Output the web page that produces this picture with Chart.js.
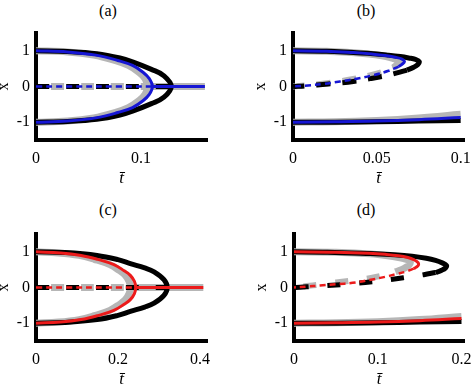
<!DOCTYPE html>
<html>
<head>
<meta charset="utf-8">
<script src="https://cdn.jsdelivr.net/npm/chart.js@4/dist/chart.umd.min.js"></script>
<style>
body{margin:0;width:474px;height:386px;overflow:hidden;background:#fff;position:relative;font-family:'Liberation Serif',serif}
canvas{position:absolute}
.lbl{position:absolute;font-size:16px;transform:translate(-50%,-50%);white-space:nowrap;color:#000}
</style>
</head>
<body>
<div class="lbl" style="left:108px;top:11px">(a)</div>
<div class="lbl" style="left:366px;top:11px">(b)</div>
<div class="lbl" style="left:108px;top:210px">(c)</div>
<div class="lbl" style="left:366px;top:210px">(d)</div>
<canvas id="ca" width="241" height="193" style="left:-4px;top:0px"></canvas>
<canvas id="cb" width="237" height="193" style="left:237px;top:0px"></canvas>
<canvas id="cc" width="241" height="201" style="left:-4px;top:193px"></canvas>
<canvas id="cd" width="237" height="201" style="left:237px;top:193px"></canvas>
<script>
const yTicks = [-1, 0, 1];

// (a) pitchfork, blue model
const aTicks = [0, 0.1];
const aMax = 0.163, aEnd = 0.161;
const aBlackT = [0, 0.03, 0.058, 0.08, 0.092, 0.11, 0.122, 0.129, 0.122, 0.11, 0.092, 0.08, 0.058, 0.03, 0];
const aBlackX = [1, 0.98, 0.92, 0.8, 0.69, 0.48, 0.3, 0, -0.3, -0.48, -0.69, -0.8, -0.92, -0.98, -1];
const aGrayT = [0, 0.03, 0.055, 0.075, 0.088, 0.098, 0.104, 0.106, 0.104, 0.098, 0.088, 0.075, 0.055, 0.03, 0];
const aGrayX = [1, 0.97, 0.88, 0.73, 0.59, 0.4, 0.22, 0, -0.22, -0.4, -0.59, -0.73, -0.88, -0.97, -1];
const aBlueT = [0, 0.03, 0.057, 0.078, 0.092, 0.102, 0.108, 0.111, 0.108, 0.102, 0.092, 0.078, 0.057, 0.03, 0];
const aBlueX = [1, 0.97, 0.88, 0.73, 0.59, 0.4, 0.22, 0, -0.22, -0.4, -0.59, -0.73, -0.88, -0.97, -1];
const aTc = [0.129, 0.106, 0.111]; // black, gray, blue

// (b) imperfect, blue model
const bTicks = [0, 0.05, 0.1];
const bMax = 0.102;
const bBlackT = [0, 0.02, 0.036, 0.048, 0.057, 0.064, 0.069, 0.073, 0.0753, 0.0745, 0.072, 0.068];
const bBlackX = [1, 0.99, 0.95, 0.92, 0.88, 0.84, 0.8, 0.76, 0.7, 0.62, 0.54, 0.46];
const bBlackUT = [0.068, 0.062, 0.056, 0.046, 0.036, 0.026, 0.016, 0.008, 0];
const bBlackUX = [0.46, 0.38, 0.31, 0.22, 0.14, 0.09, 0.05, 0.02, 0];
const bGrayT = [0, 0.02, 0.035, 0.045, 0.053, 0.058, 0.062, 0.0635, 0.062, 0.06];
const bGrayX = [1, 0.99, 0.95, 0.91, 0.86, 0.81, 0.75, 0.68, 0.6, 0.53];
const bGrayUT = [0.06, 0.054, 0.046, 0.036, 0.026, 0.016, 0.008, 0];
const bGrayUX = [0.53, 0.42, 0.31, 0.21, 0.13, 0.07, 0.03, 0];
const bBlueT = [0, 0.02, 0.036, 0.047, 0.055, 0.061, 0.065, 0.0665, 0.065, 0.063];
const bBlueX = [1, 0.99, 0.95, 0.91, 0.87, 0.82, 0.77, 0.7, 0.62, 0.56];
const bBlueUT = [0.063, 0.057, 0.048, 0.038, 0.028, 0.018, 0.009, 0];
const bBlueUX = [0.56, 0.44, 0.32, 0.22, 0.14, 0.07, 0.03, 0];
const bLowT = [0, 0.025, 0.05, 0.075, 0.1];
const bLowBlack = [-1, -1, -0.99, -0.97, -0.95];
const bLowGray = [-1, -0.99, -0.95, -0.88, -0.78];
const bLowBlue = [-1, -0.99, -0.97, -0.93, -0.87];

// (c) pitchfork, red model
const cTicks = [0, 0.2, 0.4];
const cMax = 0.417, cEnd = 0.408;
const cBlackT = [0, 0.07, 0.149, 0.2, 0.23, 0.265, 0.288, 0.312, 0.32, 0.312, 0.288, 0.265, 0.23, 0.2, 0.149, 0.07, 0];
const cBlackX = [1, 0.98, 0.9, 0.78, 0.67, 0.55, 0.44, 0.22, 0, -0.22, -0.44, -0.55, -0.67, -0.78, -0.9, -0.98, -1];
const cGrayT = [0, 0.055, 0.105, 0.142, 0.18, 0.204, 0.218, 0.227, 0.23, 0.227, 0.218, 0.204, 0.18, 0.142, 0.105, 0.055, 0];
const cGrayX = [1, 0.97, 0.9, 0.79, 0.64, 0.47, 0.34, 0.17, 0, -0.17, -0.34, -0.47, -0.64, -0.79, -0.9, -0.97, -1];
const cRedT = [0, 0.06, 0.11, 0.15, 0.19, 0.215, 0.23, 0.24, 0.243, 0.24, 0.23, 0.215, 0.19, 0.15, 0.11, 0.06, 0];
const cRedX = [1, 0.97, 0.9, 0.79, 0.64, 0.47, 0.34, 0.17, 0, -0.17, -0.34, -0.47, -0.64, -0.79, -0.9, -0.97, -1];
const cTc = [0.32, 0.23, 0.243]; // black, gray, red

// (d) imperfect, red model
const dTicks = [0, 0.1, 0.2];
const dMax = 0.203;
const dBlackT = [0, 0.04, 0.091, 0.12, 0.141, 0.158, 0.169, 0.177, 0.182, 0.181, 0.176, 0.169];
const dBlackX = [1, 0.99, 0.95, 0.92, 0.88, 0.82, 0.76, 0.69, 0.62, 0.55, 0.48, 0.42];
const dBlackUT = [0.169, 0.155, 0.141, 0.12, 0.105, 0.085, 0.07, 0.05, 0.03, 0.015, 0];
const dBlackUX = [0.42, 0.36, 0.31, 0.24, 0.19, 0.14, 0.11, 0.07, 0.04, 0.02, 0];
const dGrayT = [0, 0.05, 0.085, 0.105, 0.12, 0.131, 0.137, 0.139, 0.137, 0.131, 0.121];
const dGrayX = [1, 0.99, 0.95, 0.91, 0.86, 0.81, 0.76, 0.7, 0.62, 0.53, 0.44];
const dGrayUT = [0.121, 0.108, 0.092, 0.075, 0.05, 0.03, 0.015, 0];
const dGrayUX = [0.44, 0.35, 0.27, 0.21, 0.14, 0.08, 0.04, 0];
const dRedT = [0, 0.05, 0.09, 0.109, 0.125, 0.136, 0.143, 0.148, 0.1486, 0.146, 0.143];
const dRedX = [1, 0.99, 0.96, 0.93, 0.89, 0.84, 0.78, 0.7, 0.63, 0.57, 0.53];
const dRedUT = [0.143, 0.133, 0.121, 0.109, 0.09, 0.07, 0.05, 0.031, 0.015, 0];
const dRedUX = [0.53, 0.44, 0.37, 0.3, 0.21, 0.13, 0.09, 0.055, 0.025, 0];
const dLowT = [0, 0.05, 0.1, 0.15, 0.2];
const dLowBlack = [-1, -1, -0.99, -0.97, -0.95];
const dLowGray = [-1, -0.99, -0.96, -0.9, -0.81];
const dLowRed = [-1, -0.99, -0.97, -0.93, -0.87];

const GRAY = '#b6b6b6', BLACK = '#000000', BLUE = '#1616d4', RED = '#ec1a1a';

function pts(t, x) {
  return t.map((v, i) => ({x: v, y: x[i]}));
}
function ds(data, color, width, order, dash, off) {
  return {
    data: data, borderColor: color, borderWidth: width, order: order,
    borderDash: dash || [], borderDashOffset: off || 0,
    borderCapStyle: 'butt', pointRadius: 0, tension: 0.4, fill: false
  };
}
function zero(a, b) {
  return [{x: a, y: 0}, {x: b, y: 0}];
}

function makeChart(id, pad, xMax, xTicks, datasets) {
  new Chart(document.getElementById(id), {
    type: 'line',
    data: {datasets: datasets},
    options: {
      responsive: false, animation: false, devicePixelRatio: 1,
      layout: {padding: pad},
      plugins: {legend: {display: false}, tooltip: {enabled: false}},
      scales: {
        x: {
          type: 'linear', min: 0, max: xMax,
          grid: {display: false, drawTicks: false},
          border: {display: true, color: '#000', width: 4},
          afterBuildTicks: s => { s.ticks = xTicks.map(v => ({value: v})); },
          afterFit: s => { s.height = 53; s.paddingLeft = 0; s.paddingRight = 0; },
          ticks: {padding: 9, autoSkip: false, maxRotation: 0, color: '#000', callback: v => String(v)},
          title: {display: true, text: 't\u0304', color: '#000', font: {style: 'italic', size: 17}, padding: {top: 0, bottom: 4}}
        },
        y: {
          type: 'linear', min: -1.5, max: 1.5,
          grid: {display: false, drawTicks: false},
          border: {display: true, color: '#000', width: 4},
          afterBuildTicks: s => { s.ticks = yTicks.map(v => ({value: v})); },
          afterFit: s => { s.width = 40; s.paddingTop = 0; s.paddingBottom = 0; },
          ticks: {padding: 6, color: '#000', callback: v => String(v)},
          title: {display: true, text: 'x', color: '#000', font: {size: 16, lineHeight: 1}, padding: 0}
        }
      }
    }
  });
}

Chart.defaults.font.family = "'Liberation Serif', serif";
Chart.defaults.font.size = 16;

makeChart('ca', {left: 0, top: 33, right: 30, bottom: 0}, aMax, aTicks, [
  ds(pts(aBlueT, aBlueX), BLUE, 3, 1),
  ds(zero(0, aTc[2]), BLUE, 2.5, 1, [6, 4]),
  ds(zero(aTc[2], aEnd), BLUE, 3, 1),
  ds(pts(aBlackT, aBlackX), BLACK, 5, 2),
  ds(zero(0, aTc[0]), BLACK, 5, 2, [13, 17]),
  ds(pts(aGrayT, aGrayX), GRAY, 7, 3),
  ds(zero(0, aTc[1]), GRAY, 7, 3, [13, 17], 15),
  ds(zero(aTc[1], aEnd), GRAY, 7, 3)
]);

makeChart('cb', {left: 16, top: 33, right: 10, bottom: 0}, bMax, bTicks, [
  ds(pts(bBlueT, bBlueX), BLUE, 3, 1),
  ds(pts(bBlueUT, bBlueUX), BLUE, 2.5, 1, [6, 4]),
  ds(pts(bLowT, bLowBlue), BLUE, 3, 1),
  ds(pts(bBlackT, bBlackX), BLACK, 5, 2),
  ds(pts(bBlackUT, bBlackUX), BLACK, 5, 2, [14, 12]),
  ds(pts(bLowT, bLowBlack), BLACK, 5, 2),
  ds(pts(bGrayT, bGrayX), GRAY, 7, 3),
  ds(pts(bGrayUT, bGrayUX), GRAY, 6, 3, [14, 12], 13),
  ds(pts(bLowT, bLowGray), GRAY, 7, 3)
]);

makeChart('cc', {left: 0, top: 41, right: 30, bottom: 0}, cMax, cTicks, [
  ds(pts(cRedT, cRedX), RED, 3, 1),
  ds(zero(0, cTc[2]), RED, 2.5, 1, [6, 4]),
  ds(zero(cTc[2], cEnd), RED, 3, 1),
  ds(pts(cBlackT, cBlackX), BLACK, 5, 2),
  ds(zero(0, cTc[0]), BLACK, 5, 2, [13, 17]),
  ds(pts(cGrayT, cGrayX), GRAY, 7, 3),
  ds(zero(0, cTc[1]), GRAY, 7, 3, [13, 17], 15),
  ds(zero(cTc[1], cEnd), GRAY, 7, 3)
]);

makeChart('cd', {left: 17, top: 41, right: 10, bottom: 0}, dMax, dTicks, [
  ds(pts(dRedT, dRedX), RED, 3, 1),
  ds(pts(dRedUT, dRedUX), RED, 2.5, 1, [6, 4]),
  ds(pts(dLowT, dLowRed), RED, 3, 1),
  ds(pts(dBlackT, dBlackX), BLACK, 5, 2),
  ds(pts(dBlackUT, dBlackUX), BLACK, 5, 2, [13, 19]),
  ds(pts(dLowT, dLowBlack), BLACK, 5, 2),
  ds(pts(dGrayT, dGrayX), GRAY, 7, 3),
  ds(pts(dGrayUT, dGrayUX), GRAY, 6, 3, [13, 19], 16),
  ds(pts(dLowT, dLowGray), GRAY, 7, 3)
]);
</script>
</body>
</html>
